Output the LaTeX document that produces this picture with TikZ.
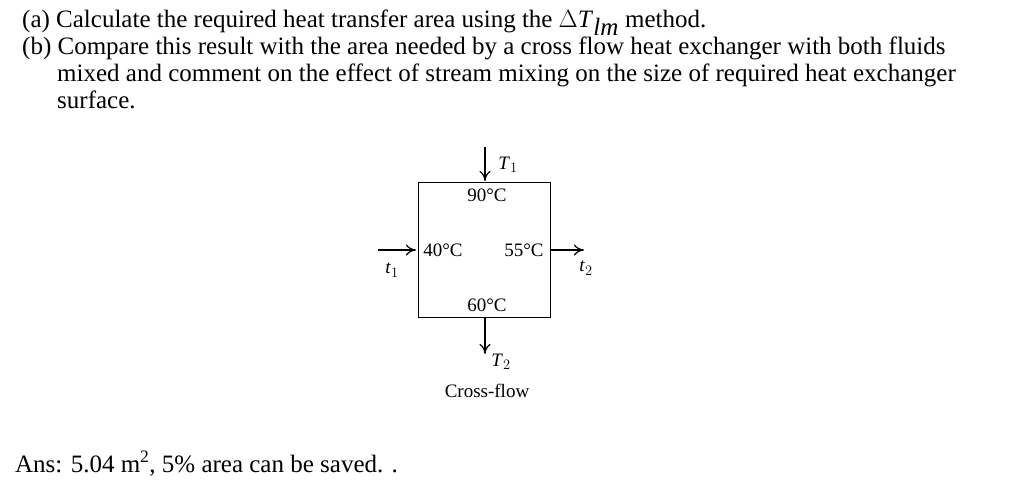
\documentclass[tikz,border=0pt]{standalone}
\usepackage{fontspec}
\setmainfont{Liberation Serif}
\usetikzlibrary{arrows.meta}
\begin{document}
\begin{tikzpicture}[x=1pt,y=-1pt,
  big/.style={anchor=base west,inner sep=0pt,font=\fontsize{25}{30}\selectfont},
  lab/.style={inner sep=0pt,font=\fontsize{19}{22}\selectfont},
  arr/.style={-{To[length=10pt,width=11pt]},line width=1.2pt}]
\useasboundingbox (0,0) rectangle (1024,490);
\node[big] (la) at (22,27) {(a) Calculate the required heat transfer area using the $\Delta$\textit{T}$_{\textit{lm}}$ method.};
\node[big] (lb) at (22,54) {(b) Compare this result with the area needed by a cross flow heat exchanger with both fluids};
\node[big] (lc) at (57,81) {mixed and comment on the effect of stream mixing on the size of required heat exchanger};
\node[big] (ld) at (57,108) {surface.};
\node[big] (ans) at (15,472) {Ans: 5.04 m\textsuperscript{2}, 5\% area can be saved. .};
\draw[line width=1pt] (418,182) rectangle (550,317);
\coordinate (tt) at (485,147); \coordinate (tb) at (485,181);
\draw[arr] (tt) -- (tb);
\coordinate (bt) at (485,318); \coordinate (bb) at (485,354);
\draw[arr] (bt) -- (bb);
\coordinate (ll) at (378,250); \coordinate (lr) at (416,250);
\draw[arr] (ll) -- (lr);
\coordinate (rl) at (551,250); \coordinate (rr) at (584,250);
\draw[arr] (rl) -- (rr);
\node[lab] (T1) at (508,165) {\textit{T}$_{1}$};
\node[lab] (t90) at (487,195) {90°C};
\node[lab] (t40) at (443,250) {40°C};
\node[lab] (t55) at (524,250) {55°C};
\node[lab] (t1) at (392,270) {\textit{t}$_{1}$};
\node[lab] (t2) at (586,268) {\textit{t}$_{2}$};
\node[lab] (t60) at (487,305) {60°C};
\node[lab] (T2) at (501,362) {\textit{T}$_{2}$};
\node[lab] (cf) at (487,391) {Cross-flow};
\end{tikzpicture}
\end{document}
